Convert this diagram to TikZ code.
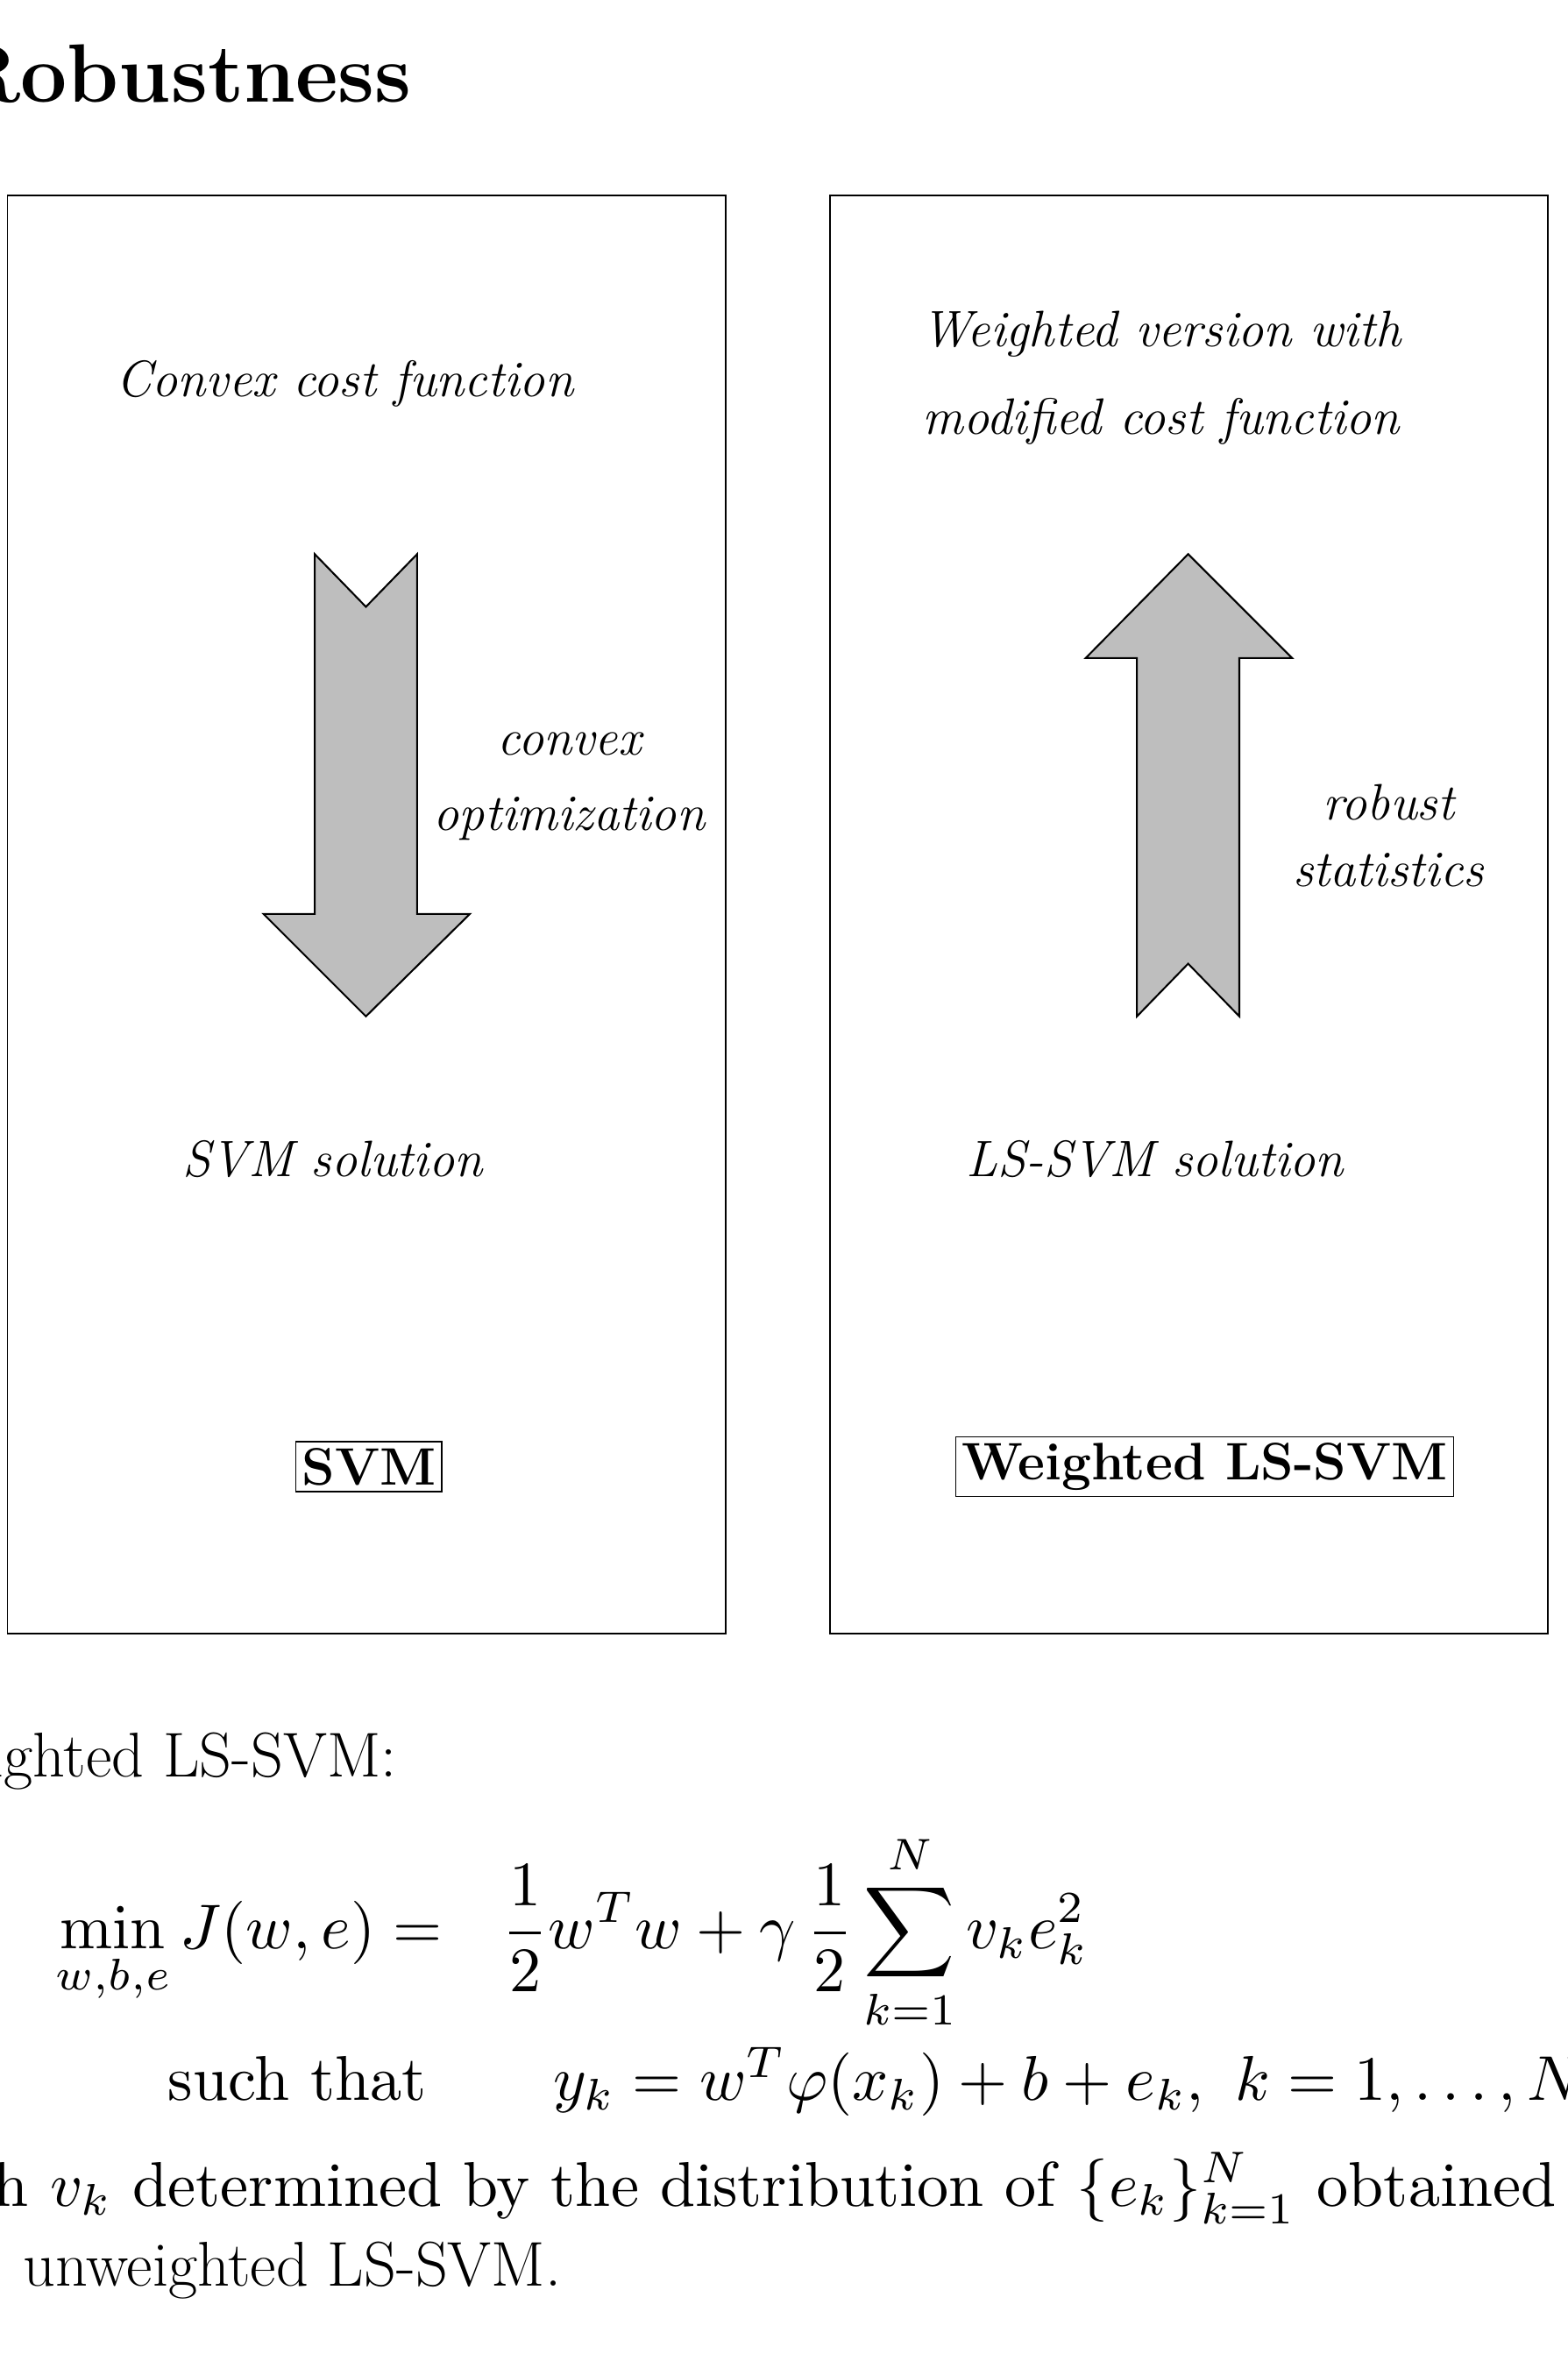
\documentclass[tikz,border=0pt]{standalone}
\usepackage{amsmath}
\begin{document}
\begin{tikzpicture}[x=1pt,y=-1pt,
  panel/.style={draw,line width=1pt},
  lbl/.style={font=\fontsize{34}{40}\selectfont\itshape},
  big/.style={font=\fontsize{42}{50}\selectfont},
  arr/.style={draw,line width=1.2pt,fill={rgb,255:red,190;green,190;blue,190}},
  tag/.style={draw,line width=1pt,font=\fontsize{35}{42}\selectfont\bfseries,inner sep=4pt}]
\useasboundingbox (0,0) rectangle (1041,1568);
\clip (0,0) rectangle (1041,1568);
\node[anchor=base east,font=\fontsize{55}{60}\selectfont\bfseries] (title) at (277,68) {Robustness};
\draw[panel] (5,130) rectangle (482,1085);
\draw[panel] (551,130) rectangle (1028,1085);
% left
\node[lbl] (c1) at (229,255) {Convex cost function};
\draw[arr] (209,368) -- (243,403) -- (277,368) -- (277,607) -- (312,607) -- (243,675) -- (175,607) -- (209,607) -- cycle;
\node[lbl,align=center] (co) at (378,522) {convex\\[10pt]optimization};
\node[lbl] (s1) at (221,770) {SVM solution};
\node[tag] (svm) at (245,974) {SVM};
% right
\node[lbl,align=center] (w1) at (771,251) {Weighted version with\\[18pt]modified cost function};
\draw[arr] (789,368) -- (858,437) -- (823,437) -- (823,675) -- (789,640) -- (755,675) -- (755,437) -- (721,437) -- cycle;
\node[lbl,align=center] (rs) at (922,555) {robust\\[4pt]statistics};
\node[lbl] (s2) at (767,770) {LS-SVM solution};
\node[tag] (wls) at (800,974) {Weighted LS-SVM};
% bottom
\node[big,anchor=base east] (h) at (267,1180) {Weighted LS-SVM:};
\node (eq) at (380,1283) {\scalebox{4.2}{$\displaystyle \min_{w,b,e} J(w,e) = \ \ \frac{1}{2}w^T w+\gamma\,\frac{1}{2}\sum_{k=1}^{N} v_k e_k^2$}};
\node[anchor=base west] (st) at (108,1395) {\scalebox{4.2}{such that\qquad $y_k = w^T\varphi(x_k)+b+e_k,\ k=1,\ldots,N$}};
\node[anchor=base west] (l1) at (-66,1465) {\scalebox{4.2}{with $v_k$ determined by the distribution of $\{e_k\}_{k=1}^N$ obtained from}};
\node[big,anchor=base west] (l2) at (12,1518) {unweighted LS-SVM.};
\end{tikzpicture}
\end{document}
